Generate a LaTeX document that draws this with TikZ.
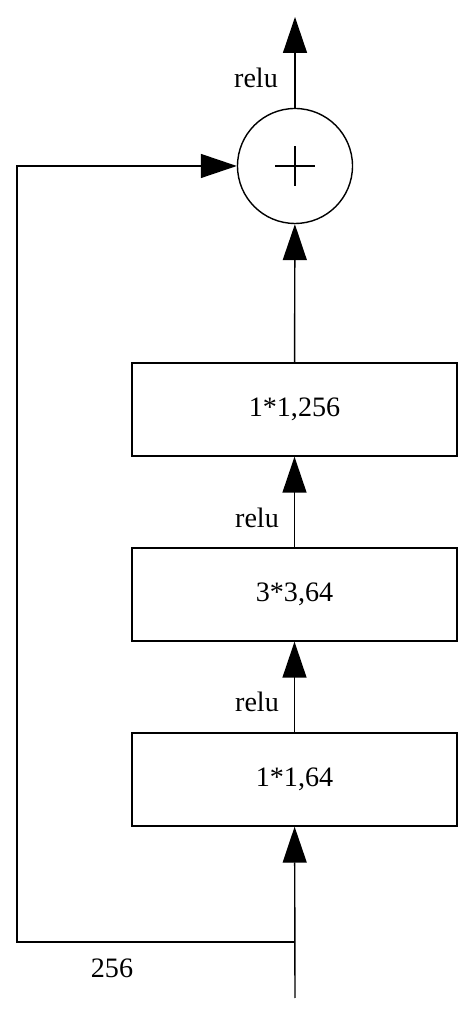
\documentclass[tikz,border=0pt]{standalone}
\usepackage{fontspec}
\setmainfont{Liberation Serif}
\usetikzlibrary{arrows.meta}

\begin{document}
\begin{tikzpicture}[line width=0.8pt,
    layer/.style={draw,minimum width=6.5cm,minimum height=1.86cm,font=\fontsize{16}{19}\selectfont},
    lbl/.style={font=\fontsize{16}{19}\selectfont},
    flow/.style={-{Triangle[length=0.72cm,width=0.48cm]}}]
  \useasboundingbox (0,0) rectangle (9.48,20.3);
  \node[draw,circle,minimum size=2.3cm,inner sep=0pt] (sum) at (5.9,16.98) {};
  \draw (sum.center) ++(-0.4,0) -- ++(0.8,0);
  \draw (sum.center) ++(0,-0.4) -- ++(0,0.8);
  \node[layer] (convc) at (5.89,12.11) {1*1,256};
  \node[layer] (convb) at (5.89,8.41) {3*3,64};
  \node[layer] (conva) at (5.89,4.71) {1*1,64};
  \coordinate (input) at (5.9,0.34);
  \coordinate (branch) at (5.9,1.46);
  \coordinate (corner) at (0.34,1.46);
  \coordinate (output) at (5.9,19.96);
  \draw[flow] (input) -- (conva);
  \draw[flow] (conva) -- (convb);
  \draw[flow] (convb) -- (convc);
  \draw[flow] (convc) -- (sum);
  \draw[flow] (sum) -- (output);
  \draw[flow] (branch) -- (corner) |- (sum.west);
  \node[lbl] (relua) at (5.14,6.26) {relu};
  \node[lbl] (relub) at (5.14,9.94) {relu};
  \node[lbl] (reluc) at (5.12,18.74) {relu};
  \node[lbl] (skip) at (2.24,0.94) {256};
\end{tikzpicture}
\end{document}
